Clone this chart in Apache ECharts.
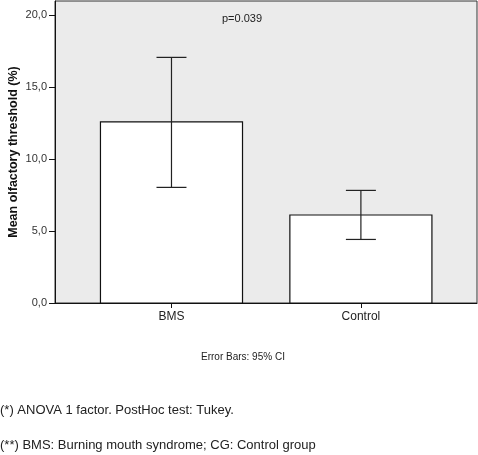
<!DOCTYPE html>
<html lang="en">

<head>
  <meta charset="UTF-8">
  <title>olfactory threshold</title>
  <script src="https://cdn.jsdelivr.net/npm/echarts@6.0.0/dist/echarts.min.js"></script>
  <style>
    html, body { margin: 0; padding: 0; background: #fff; }
    #chart { width: 478px; height: 455px; }
  </style>
</head>

<body>
  <div id="chart"></div>
  <script>
    let groups = ['BMS', 'Control'];
    let means = [12.59, 6.12];
    let ciLow = [8.04, 4.42];
    let ciHigh = [17.08, 7.83];
    let yTicks = [0, 5, 10, 15, 20];
    let pText = 'p=0.039';
    let notes = ['(*) ANOVA 1 factor. PostHoc test: Tukey.', '(**) BMS: Burning mouth syndrome; CG: Control group'];

    let font = 'Arial, "Liberation Sans", sans-serif';
    let chart = echarts.init(document.getElementById('chart'));

    let rows = groups.map((g, i) => [i, means[i], ciLow[i], ciHigh[i]]);

    let option = {
      animation: false,
      grid: {
        left: 55, right: 1, top: 1, bottom: 152,
        containLabel: false,
        outerBoundsMode: 'none',
        show: true,
        backgroundColor: '#ebebeb',
        borderColor: '#333',
        borderWidth: 1
      },
      xAxis: {
        type: 'value',
        min: -0.615,
        max: 1.613,
        splitLine: { show: false },
        axisLine: { show: true, onZero: false, lineStyle: { color: '#111', width: 1 } },
        axisTick: { show: true, length: 5, customValues: [0, 1], lineStyle: { color: '#111' } },
        axisLabel: {
          customValues: [0, 1],
          formatter: v => groups[Math.round(v)],
          color: '#222', fontFamily: font, fontSize: 12, margin: 8
        }
      },
      yAxis: {
        type: 'value',
        min: 0,
        max: 21,
        name: 'Mean olfactory threshold (%)',
        nameLocation: 'middle',
        nameGap: 35,
        nameMoveOverlap: false,
        nameTextStyle: { fontFamily: font, fontSize: 12.5, fontWeight: 'bold', color: '#111' },
        splitLine: { show: false },
        axisLine: { show: true, onZero: false, lineStyle: { color: '#111', width: 1 } },
        axisTick: { show: true, length: 6, customValues: yTicks, lineStyle: { color: '#111' } },
        axisLabel: {
          customValues: yTicks,
          formatter: v => v.toFixed(1).replace('.', ','),
          color: '#333', fontFamily: font, fontSize: 11, margin: 8
        }
      },
      series: [
        {
          type: 'custom',
          data: rows,
          renderItem: (params, api) => {
            let x = api.value(0);
            let top = api.coord([x, api.value(1)]);
            let base = api.coord([x, 0]);
            let w = api.size([0.75, 0])[0];
            let hi = api.coord([x, api.value(3)]);
            let lo = api.coord([x, api.value(2)]);
            let cap = 15;
            let line = { stroke: '#222', lineWidth: 1.2 };
            return {
              type: 'group',
              children: [
                {
                  type: 'rect',
                  shape: { x: base[0] - w / 2, y: top[1], width: w, height: base[1] - top[1] },
                  style: { fill: '#fff', stroke: '#111', lineWidth: 1.2 }
                },
                { type: 'line', shape: { x1: hi[0], y1: hi[1], x2: lo[0], y2: lo[1] }, style: line },
                { type: 'line', shape: { x1: hi[0] - cap, y1: hi[1], x2: hi[0] + cap, y2: hi[1] }, style: line },
                { type: 'line', shape: { x1: lo[0] - cap, y1: lo[1], x2: lo[0] + cap, y2: lo[1] }, style: line }
              ]
            };
          }
        }
      ],
      graphic: [
        { type: 'text', left: 222, top: 13, style: { text: pText, font: '11px ' + font, fill: '#222' } },
        { type: 'text', left: 201, top: 352, style: { text: 'Error Bars: 95% CI', font: '10px ' + font, fill: '#222' } },
        { type: 'text', left: 0, top: 404, style: { text: notes[0], font: '13px ' + font, fill: '#222' } },
        { type: 'text', left: 0, top: 439, style: { text: notes[1], font: '13px ' + font, fill: '#222' } }
      ]
    };

    chart.setOption(option);
  </script>
</body>

</html>
